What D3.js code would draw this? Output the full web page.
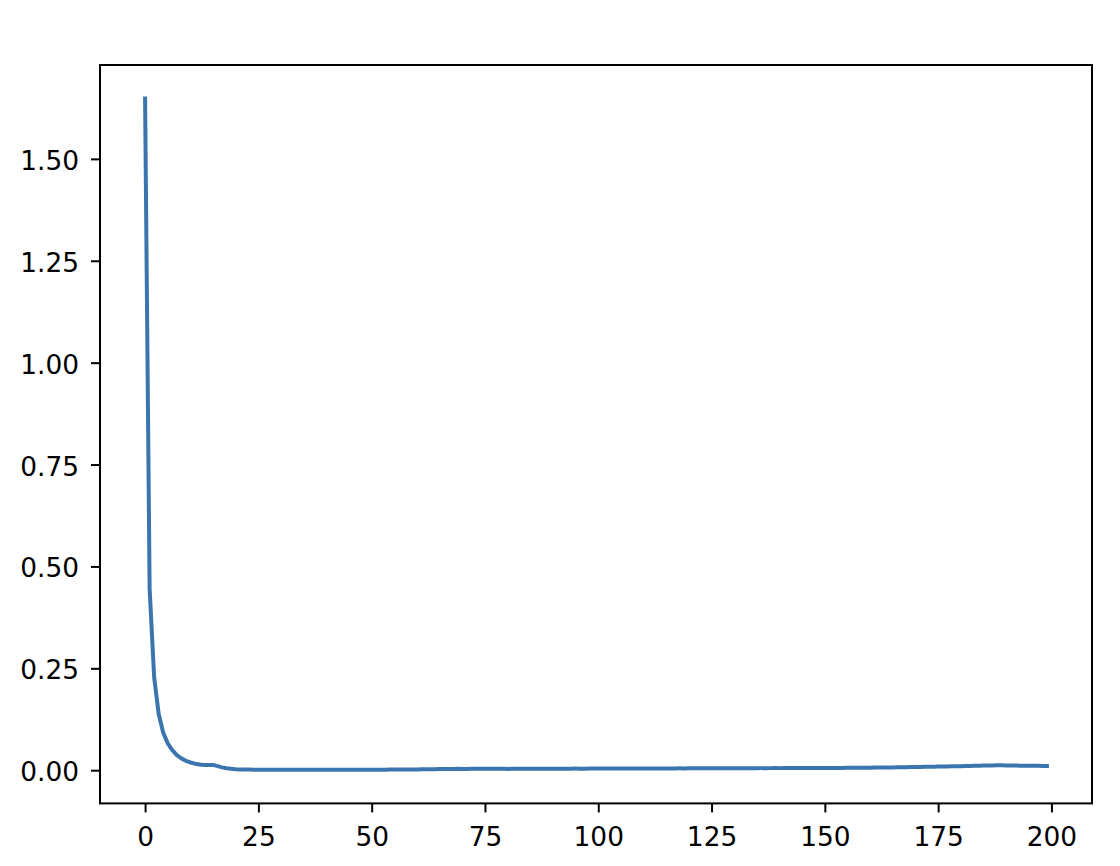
<!DOCTYPE html>
<html>
<head>
<meta charset="utf-8">
<script src="https://cdn.jsdelivr.net/npm/d3@7"></script>
<style>
  html, body { margin: 0; padding: 0; background: #fff; }
  svg text { font-family: "DejaVu Sans", sans-serif; }
</style>
</head>
<body>
<svg id="chart" width="1120" height="866"></svg>
<script>
const values = [
  1.648, 0.445, 0.228, 0.138, 0.092, 0.066, 0.049, 0.037, 0.029, 0.023,
  0.019, 0.016, 0.014, 0.013, 0.013, 0.013, 0.010, 0.007, 0.005, 0.0035,
  0.0025, 0.0020, 0.0017, 0.0015, 0.0014, 0.0013, 0.0012, 0.0012, 0.0011, 0.0011,
  0.0011, 0.0010, 0.0010, 0.0010, 0.0010, 0.0009, 0.0009, 0.0009, 0.0009, 0.0009,
  0.0009, 0.0009, 0.0010, 0.0010, 0.0010, 0.0010, 0.0011, 0.0011, 0.0012, 0.0012,
  0.0013, 0.0013, 0.0014, 0.0014, 0.0015, 0.0016, 0.0016, 0.0017, 0.0018, 0.0019,
  0.0020, 0.0021, 0.0022, 0.0024, 0.0025, 0.0027, 0.0028, 0.0030, 0.0031, 0.0033,
  0.0032, 0.0031, 0.0033, 0.0034, 0.0035, 0.0034, 0.0033, 0.0034, 0.0035, 0.0033,
  0.0032, 0.0034, 0.0036, 0.0035, 0.0034, 0.0035, 0.0036, 0.0037, 0.0036, 0.0035,
  0.0037, 0.0038, 0.0037, 0.0036, 0.0038, 0.0039, 0.0038, 0.0037, 0.0039, 0.0040,
  0.0039, 0.0040, 0.0041, 0.0040, 0.0041, 0.0042, 0.0041, 0.0042, 0.0043, 0.0042,
  0.0041, 0.0042, 0.0043, 0.0042, 0.0043, 0.0044, 0.0043, 0.0044, 0.0045, 0.0044,
  0.0045, 0.0046, 0.0045, 0.0046, 0.0047, 0.0046, 0.0047, 0.0048, 0.0047, 0.0048,
  0.0049, 0.0048, 0.0049, 0.0050, 0.0049, 0.0050, 0.0051, 0.0050, 0.0051, 0.0052,
  0.0051, 0.0052, 0.0053, 0.0052, 0.0053, 0.0054, 0.0053, 0.0054, 0.0055, 0.0054,
  0.0055, 0.0056, 0.0055, 0.0056, 0.0057, 0.0058, 0.0059, 0.0060, 0.0061, 0.0062,
  0.0063, 0.0064, 0.0065, 0.0066, 0.0067, 0.0068, 0.0070, 0.0072, 0.0074, 0.0076,
  0.0078, 0.0080, 0.0082, 0.0084, 0.0086, 0.0088, 0.0090, 0.0092, 0.0094, 0.0096,
  0.0098, 0.0101, 0.0104, 0.0107, 0.0110, 0.0113, 0.0116, 0.0118, 0.0119, 0.0119,
  0.0118, 0.0116, 0.0114, 0.0112, 0.0110, 0.0109, 0.0108, 0.0107, 0.0106, 0.0105
];
const epochs = values.map((_, i) => i);
const xTicks = [0, 25, 50, 75, 100, 125, 150, 175, 200];
const yTicks = [0.00, 0.25, 0.50, 0.75, 1.00, 1.25, 1.50];

const svg = d3.select("#chart");
const plotLeft = 100, plotRight = 1092, plotTop = 65, plotBottom = 803.4;

const xMin = d3.min(epochs), xMax = d3.max(epochs);
const xPad = (xMax - xMin) * 0.05;
const x = d3.scaleLinear().domain([xMin - xPad, xMax + xPad]).range([plotLeft, plotRight]);

const yMin = d3.min(values), yMax = d3.max(values);
const yPad = (yMax - yMin) * 0.05;
const y = d3.scaleLinear().domain([yMin - yPad, yMax + yPad]).range([plotBottom, plotTop]);

// x axis
const gx = svg.append("g").attr("transform", `translate(0,${plotBottom})`)
  .call(d3.axisBottom(x).tickValues(xTicks).tickFormat(d3.format("d"))
    .tickSize(9).tickSizeOuter(0).tickPadding(15));
gx.select(".domain").remove();
gx.selectAll(".tick line").attr("stroke", "#000").attr("stroke-width", 2);
gx.selectAll(".tick text").attr("font-size", "26.4px").attr("fill", "#000")
  .attr("font-family", "DejaVu Sans, sans-serif");

// y axis
const gy = svg.append("g").attr("transform", `translate(${plotLeft},0)`)
  .call(d3.axisLeft(y).tickValues(yTicks).tickFormat(d3.format(".2f"))
    .tickSize(9).tickSizeOuter(0).tickPadding(12));
gy.select(".domain").remove();
gy.selectAll(".tick line").attr("stroke", "#000").attr("stroke-width", 2);
gy.selectAll(".tick text").attr("font-size", "26.4px").attr("fill", "#000")
  .attr("dy", "0.4em").attr("font-family", "DejaVu Sans, sans-serif");

// line
const line = d3.line().x((d, i) => x(epochs[i])).y(d => y(d));
svg.append("path").datum(values)
  .attr("d", line)
  .attr("fill", "none")
  .attr("stroke", "#3a75af")
  .attr("stroke-width", 4)
  .attr("stroke-linecap", "square")
  .attr("stroke-linejoin", "round");

// frame
svg.append("rect")
  .attr("x", plotLeft).attr("y", plotTop)
  .attr("width", plotRight - plotLeft).attr("height", plotBottom - plotTop)
  .attr("fill", "none").attr("stroke", "#000").attr("stroke-width", 2);
</script>
</body>
</html>
